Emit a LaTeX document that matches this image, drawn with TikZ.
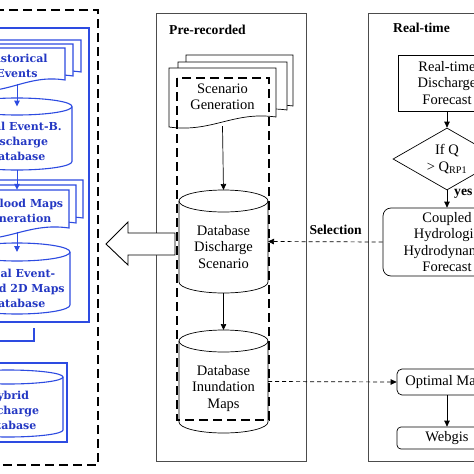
\documentclass[tikz,border=0pt]{standalone}
\usepackage{fontspec}
\setmainfont{Liberation Serif}
\newfontfamily\blueface{DejaVu Serif}
\usetikzlibrary{shapes.geometric,arrows.meta}
\definecolor{blueL}{RGB}{45,75,225}
\definecolor{blueT}{RGB}{35,55,195}
\newcommand{\drawdoc}[5]{%
  \draw[#5] (#1,{#4+10}) -- (#1,#2) -- (#3,#2) -- (#3,#4)
    .. controls ({#3-0.4*(#3-(#1))},{#4-6}) and ({#1+0.4*(#3-(#1))},{#4+16}) .. (#1,{#4+10}) -- cycle;}
\newcommand{\drawcyl}[4]{%
  \draw[#4] ([yshift=-#3pt]#1.north west) -- ([yshift=#3pt]#1.south west)
    arc[start angle=180,end angle=360,x radius=#2pt,y radius=#3pt]
    -- ([yshift=-#3pt]#1.north east)
    arc[start angle=0,end angle=180,x radius=#2pt,y radius=#3pt] -- cycle;
  \draw[#4,fill=none] ([yshift=-#3pt]#1.north west)
    arc[start angle=180,end angle=360,x radius=#2pt,y radius=#3pt];}
\begin{document}
\begin{tikzpicture}[x=1pt,y=-1pt,
  txt/.style={font=\fontsize{14.5}{16.5}\selectfont, align=center, inner sep=0pt},
  btxt/.style={font=\blueface\bfseries\fontsize{11}{15}\selectfont, text=blueT, align=center, inner sep=0pt},
  lbl/.style={font=\bfseries\fontsize{13.6}{16}\selectfont, inner sep=0pt},
  hold/.style={inner sep=0pt, outer sep=0pt},
  frame/.style={draw=black!70, line width=0.9pt},
  arr/.style={-{Triangle[length=6pt,width=5.5pt]}, line width=0.7pt},
  barr/.style={-{Triangle[length=6pt,width=5.5pt]}, line width=1pt, draw=blueL, fill=blueL},
  dasharr/.style={arr, dash pattern=on 4pt off 3pt},
  thickdash/.style={line width=2.2pt, dash pattern=on 9pt off 5pt},
  docshape/.style={draw=black, fill=white, line width=0.7pt},
  bdoc/.style={draw=blueL, fill=white, line width=1.1pt},
  cylshape/.style={draw=black, fill=white, line width=0.7pt},
  bcyl/.style={draw=blueL, fill=white, line width=1.1pt},
  rbox/.style={txt, draw=black, line width=0.7pt, fill=white},
  bline/.style={draw=blueL, line width=1.6pt}]
\useasboundingbox (0,0) rectangle (474,474);
\fill[white] (0,0) rectangle (474,474);
\clip (0,0) rectangle (474,474);

% ---------------- left (blue) panel ----------------
\draw[bline] (-60,28) rectangle (89,322);
\drawdoc{-15}{40}{81}{72}{bdoc}
\drawdoc{-23}{44}{73}{76}{bdoc}
\drawdoc{-31}{48}{65}{80}{bdoc}
\node[btxt, minimum width=96, minimum height=36] (hist) at (17,66) {Historical\\Events};

\node[hold, minimum width=110, minimum height=72] (lcyl1) at (17,134) {};
\drawcyl{lcyl1}{55}{8.5}{bcyl}
\node[btxt] (lcyl1t) at (17,141) {Local Event-B.\\Discharge\\Database};

\drawdoc{-21}{180}{83}{218}{bdoc}
\drawdoc{-28}{185}{76}{223}{bdoc}
\drawdoc{-35}{190}{69}{228}{bdoc}
\node[btxt, minimum width=104, minimum height=42] (flood) at (17,211) {2D Flood Maps\\Generation};

\node[hold, minimum width=106, minimum height=71] (lcyl2) at (17,278.5) {};
\drawcyl{lcyl2}{53}{9}{bcyl}
\node[btxt] (lcyl2t) at (17,288) {Local Event-\\Based 2D Maps\\Database};

\draw[barr] (hist.south) -- ([yshift=-8.5pt]lcyl1.north);
\draw[barr] (lcyl1.south) -- (flood.north);
\draw[barr] (flood.south) -- ([yshift=-9pt]lcyl2.north);

\coordinate (lc1) at (34,328);
\coordinate (lc2) at (-60,341);
\draw[bline, line width=1.3pt] (lc1) |- (lc2);

\draw[bline, line width=1.9pt] (-60,363) rectangle (67,442);
\node[hold, minimum width=110, minimum height=67] (hyb) at (8,403.5) {};
\drawcyl{hyb}{55}{7}{bcyl}
\node[btxt] (hybt) at (8,410) {Hybrid\\Discharge\\Database};

\draw[thickdash] (-60,10) rectangle (98,465);

% ---------------- pre-recorded panel ----------------
\draw[frame] (156,13) rectangle (306,461);
\node[lbl, anchor=west] (prelbl) at (169,30) {Pre-recorded};

\drawdoc{186}{55}{293}{106}{docshape}
\drawdoc{178}{62}{287}{110}{docshape}
\drawdoc{169}{68}{276}{117}{docshape}
\node[txt, minimum width=107, minimum height=58] (sg) at (222.5,97) {Scenario\\Generation};

\node[hold, minimum width=89, minimum height=103] (dds) at (223.5,241.5) {};
\drawcyl{dds}{44.5}{11}{cylshape}
\node[txt] (ddst) at (223.5,247) {Database\\Discharge\\Scenario};

\node[hold, minimum width=89, minimum height=103] (dim) at (223.5,381.5) {};
\drawcyl{dim}{44.5}{11}{cylshape}
\node[txt] (dimt) at (223.5,388.5) {Database\\Inundation\\Maps};

\draw[arr] (sg.south) -- (dds.north);
\draw[arr] (dds.south) -- (dim.north);

\draw[thickdash] (177,78) rectangle (269,420);

% big hollow arrow
\draw[fill=white, line width=0.9pt] (106,244) -- (128,222) -- (128,233) -- (175,233)
  -- (175,255) -- (128,255) -- (128,265) -- cycle;

% ---------------- real-time panel ----------------
\draw[frame] (368,13) rectangle (560,461);
\node[lbl, anchor=west] (rtlbl) at (393,28) {Real-time};

\node[rbox, minimum width=98, minimum height=56] (rdf) at (447,83) {Real-time\\Discharge\\Forecast};
\node[txt, diamond, aspect=1.74, draw=black, line width=0.7pt, fill=white,
      minimum width=108, minimum height=62] (dia) at (447,159) {If Q\\> Q\textsubscript{RP1}};
\node[rbox, rounded corners=8pt, minimum width=128, minimum height=68] (cpl) at (447,242)
  {Coupled\\Hydrologic\\Hydrodynamic\\Forecast};
\node[rbox, rounded corners=5pt, minimum width=100, minimum height=26] (opt) at (447,382) {Optimal Maps};
\node[rbox, rounded corners=4pt, minimum width=100, minimum height=22] (web) at (447,438) {Webgis};

\draw[arr] (rdf.south) -- (dia.north);
\draw[arr] (dia.south) -- (cpl.north);
\node[lbl, anchor=west] (yes) at (454,194) {yes};
\draw[arr] (opt.south) -- (web.north);

\draw[dasharr] (cpl.west) -- (dds.east) node[lbl, pos=0.41, above=7pt] (sel) {Selection};
\draw[dasharr] (dim.east) -- (opt.west);
\end{tikzpicture}
\end{document}
